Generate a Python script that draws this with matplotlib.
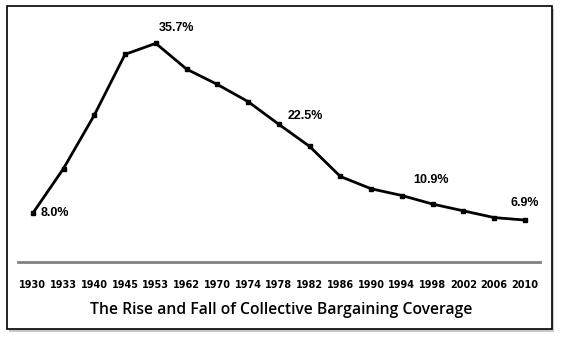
import matplotlib
matplotlib.use("Agg")
import matplotlib.pyplot as plt
from matplotlib.patches import Rectangle

years = ["1930", "1933", "1940", "1945", "1953", "1962", "1970", "1974", "1978",
         "1982", "1986", "1990", "1994", "1998", "2002", "2006", "2010"]
coverage = [8.0, 15.3, 24.0, 33.9, 35.7, 31.5, 29.0, 26.2, 22.5,
            18.9, 14.0, 12.0, 10.9, 9.5, 8.4, 7.3, 6.9]
labels = {0: "8.0%", 4: "35.7%", 8: "22.5%", 12: "10.9%", 16: "6.9%"}
title = "The Rise and Fall of Collective Bargaining Coverage"

fig = plt.figure(figsize=(5.62, 3.39), dpi=100)
fig.patch.set_facecolor("white")

# frame with shadow
shadow = Rectangle((9 / 562, 1 - 332 / 339), 545 / 562, 323 / 339,
                   transform=fig.transFigure, facecolor="#c8c8c8",
                   edgecolor="none", zorder=-2)
frame = Rectangle((7 / 562, 1 - 329 / 339), 545 / 562, 323 / 339,
                  transform=fig.transFigure, facecolor="white",
                  edgecolor="black", linewidth=1.2, zorder=-1)
fig.patches.extend([shadow, frame])

ax = fig.add_axes([18 / 562, 0.226, 522 / 562, 0.724])
ax.set_zorder(2)
ax.set_facecolor("none")
x = list(range(len(years)))
ax.plot(x, coverage, color="black", linewidth=2, marker="s", markersize=3.5,
        zorder=3)

ax.set_xlim(-0.48, 16.49)
ax.set_ylim(0, 40)
for s in ["top", "right", "left"]:
    ax.spines[s].set_visible(False)
ax.spines["bottom"].set_color("#808080")
ax.spines["bottom"].set_linewidth(2)
ax.set_yticks([])
ax.set_xticks(x)
ax.set_xticklabels(years, family=["Liberation Sans Narrow", "DejaVu Sans"],
                   fontweight="bold", fontsize=7)
ax.tick_params(axis="x", length=0, pad=13)

bold = dict(family=["Liberation Sans", "DejaVu Sans"], fontweight="bold",
            fontsize=9, color="black")
offsets = {0: (6, 0, "left", "center"),
           4: (2, 7, "left", "bottom"),
           8: (6, 2, "left", "bottom"),
           12: (8, 7, "left", "bottom"),
           16: (10, 8, "right", "bottom")}
for i, txt in labels.items():
    dx, dy, ha, va = offsets[i]
    ax.annotate(txt, (x[i], coverage[i]), xytext=(dx, dy),
                textcoords="offset points", ha=ha, va=va, **bold)

fig.text(0.5, 1 - 310 / 339, title, ha="center", va="center",
         family=["Open Sans", "DejaVu Sans"], fontweight="semibold",
         fontsize=11.3, color="black", zorder=3)

fig.savefig("out.png", dpi=100)
